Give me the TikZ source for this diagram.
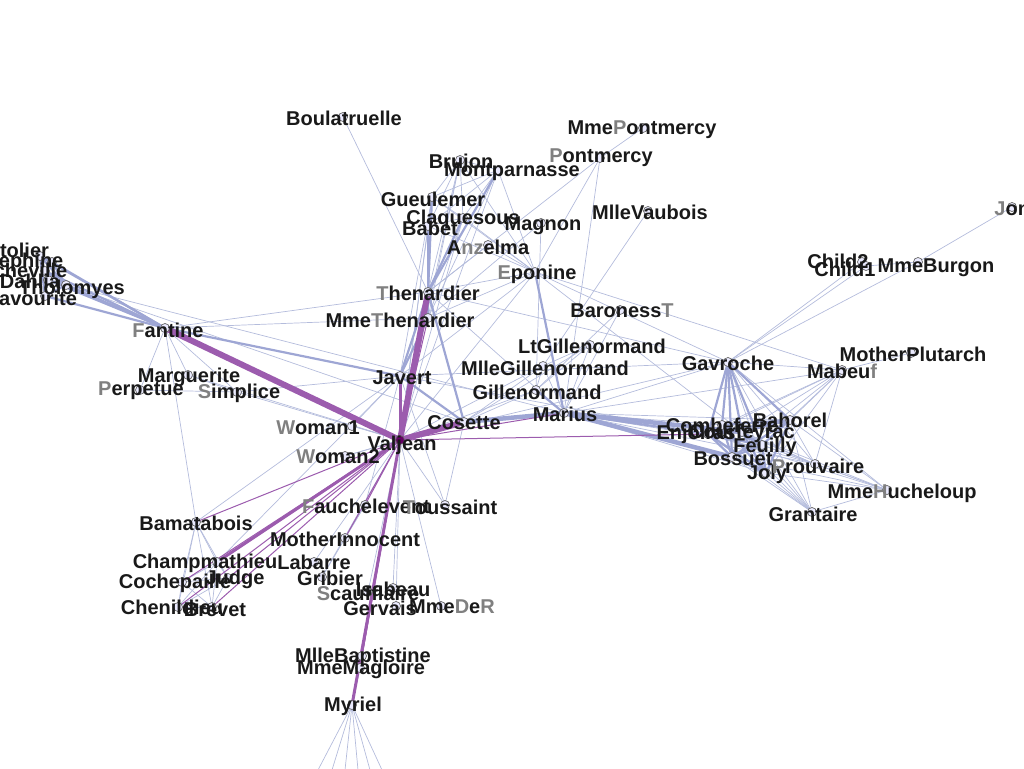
\documentclass[tikz,border=0pt]{standalone}
\usepackage{fontspec}
\setmainfont{Liberation Sans}
\definecolor{eA}{HTML}{B4BCDC}
\definecolor{eB}{HTML}{9EA6D4}
\definecolor{pA}{HTML}{9C5CAE}
\begin{document}
\begin{tikzpicture}[x=1pt,y=-1pt,
 pt/.style={circle,draw=black!60,fill=blue!8,inner sep=0pt,minimum size=9pt,line width=0.7pt},
 lab/.style={font=\fontsize{20}{20}\selectfont\bfseries,text=black!90,inner sep=0pt},
 e1/.style={draw=eA,line width=0.7pt},
 e2/.style={draw=eB,line width=2.2pt},
 e3/.style={draw=eB,line width=4.5pt},
 p1/.style={draw=pA,line width=1pt},
 p2/.style={draw=pA,line width=3pt},
 p3/.style={draw=pA,line width=6pt}]
\useasboundingbox (0,0) rectangle (1024,768);
\newcommand{\pn}[5]{\coordinate (#1) at (#2,#3);}
\pn{Boulatruelle}{343}{117}{}{}
\pn{MmePontmercy}{643}{128}{}{}
\pn{Pontmercy}{600}{158}{}{}
\pn{Brujon}{460}{160}{}{}
\pn{Montparnasse}{498}{170}{}{}
\pn{Gueulemer}{432}{197}{}{}
\pn{Claquesous}{463}{218}{}{}
\pn{Babet}{428}{226}{}{}
\pn{Magnon}{541}{223}{}{}
\pn{MlleVaubois}{648}{211}{}{}
\pn{Anzelma}{488}{245}{}{}
\pn{Eponine}{535}{272}{}{}
\pn{Jondrette}{1012}{207}{}{}
\pn{Child2}{862}{262}{}{}
\pn{Child1}{866}{266}{}{}
\pn{MmeBurgon}{918}{262}{}{}
\pn{Thenardier}{428}{292}{}{}
\pn{MmeThenardier}{428}{318}{}{}
\pn{BaronessT}{620}{310}{}{}
\pn{LtGillenormand}{590}{345}{}{}
\pn{MlleGillenormand}{543}{366}{}{}
\pn{Gillenormand}{536}{390}{}{}
\pn{Gavroche}{728}{362}{}{}
\pn{MotherPlutarch}{911}{353}{}{}
\pn{Mabeuf}{842}{370}{}{}
\pn{Javert}{400}{376}{}{}
\pn{Marius}{564}{413}{}{}
\pn{Cosette}{464}{422}{}{}
\pn{Valjean}{400}{440}{}{}
\pn{Woman1}{352}{426}{}{}
\pn{Woman2}{345}{456}{}{}
\pn{Fauchelevent}{365}{505}{}{}
\pn{Toussaint}{445}{505}{}{}
\pn{MotherInnocent}{345}{538}{}{}
\pn{Labarre}{314}{562}{}{}
\pn{Gribier}{322}{577}{}{}
\pn{Scaufflaire}{368}{592}{}{}
\pn{Isabeau}{393}{588}{}{}
\pn{Gervais}{396}{606}{}{}
\pn{MmeDeR}{441}{606}{}{}
\pn{Bahorel}{790}{420}{}{}
\pn{Combeferre}{722}{425}{}{}
\pn{Courfeyrac}{742}{432}{}{}
\pn{Enjolras}{708}{434}{}{}
\pn{Feuilly}{762}{445}{}{}
\pn{Bossuet}{732}{457}{}{}
\pn{Joly}{766}{473}{}{}
\pn{Prouvaire}{815}{464}{}{}
\pn{MmeHucheloup}{887}{490}{}{}
\pn{Grantaire}{812}{512}{}{}
\pn{Fantine}{165}{328}{}{}
\pn{Marguerite}{188}{375}{}{}
\pn{Perpetue}{140}{390}{}{}
\pn{Simplice}{237}{392}{}{}
\pn{Listolier}{40}{256}{}{}
\pn{Zephine}{52}{262}{}{}
\pn{Blacheville}{45}{271}{}{}
\pn{Dahlia}{48}{280}{}{}
\pn{Tholomyes}{66}{285}{}{}
\pn{Favourite}{45}{296}{}{}
\pn{Bamatabois}{196}{522}{}{}
\pn{Champmathieu}{217}{562}{}{}
\pn{Judge}{228}{578}{}{}
\pn{Cochepaille}{182}{582}{}{}
\pn{Chenildieu}{178}{607}{}{}
\pn{Brevet}{212}{607}{}{}
\pn{MlleBaptistine}{362}{656}{}{}
\pn{MmeMagloire}{360}{668}{}{}
\pn{Myriel}{352}{705}{}{}
\coordinate (o1) at (318,770); \coordinate (o2) at (332,770);\coordinate (o3) at (345,770);
\coordinate (o4) at (358,770);\coordinate (o5) at (370,770);\coordinate (o6) at (382,770);
% edges
\foreach \a/\b in {Myriel/o1,Myriel/o2,Myriel/o3,Myriel/o4,Myriel/o5,Myriel/o6,Myriel/MlleBaptistine,Myriel/MmeMagloire,MlleBaptistine/MmeMagloire,
 Valjean/Labarre,Valjean/Marguerite,Valjean/MmeDeR,Valjean/Isabeau,Valjean/Gervais,Valjean/Simplice,Valjean/Woman1,Valjean/Woman2,Valjean/Toussaint,Valjean/Scaufflaire,Valjean/Gribier,Valjean/Gillenormand,Valjean/MlleGillenormand,Valjean/Gavroche,Valjean/Babet,Valjean/Gueulemer,Valjean/Claquesous,Valjean/Montparnasse,Valjean/Brujon,Valjean/Eponine,
 Fantine/Marguerite,Fantine/Thenardier,Fantine/MmeThenardier,Fantine/Bamatabois,Fantine/Perpetue,Fantine/Simplice,Marguerite/Simplice,Perpetue/Simplice,
 Javert/Fauchelevent,Javert/Bamatabois,Javert/Champmathieu,Javert/Gavroche,Javert/Enjolras,Javert/Woman1,Javert/Simplice,Javert/Toussaint,Javert/Eponine,Javert/Gueulemer,
 Thenardier/Boulatruelle,Thenardier/Brujon,Thenardier/Eponine,Thenardier/Anzelma,Thenardier/Marius,Thenardier/Gavroche,Thenardier/Pontmercy,
 Eponine/Montparnasse,Eponine/Brujon,Eponine/Claquesous,Eponine/Babet,Eponine/Gueulemer,Eponine/MmeThenardier,Eponine/Anzelma,Eponine/Mabeuf,Eponine/Courfeyrac,Eponine/Gavroche,
 Marius/Pontmercy,Marius/LtGillenormand,Marius/MlleGillenormand,Marius/BaronessT,Marius/Mabeuf,Marius/Combeferre,Marius/Bahorel,Marius/Feuilly,Marius/Joly,Marius/Bossuet,Marius/Prouvaire,Marius/Gavroche,Marius/Tholomyes,Marius/Eponine,
 Gillenormand/MlleGillenormand,Gillenormand/Magnon,Gillenormand/Cosette,Gillenormand/LtGillenormand,Gillenormand/BaronessT,MlleGillenormand/MlleVaubois,MlleGillenormand/Cosette,MlleGillenormand/LtGillenormand,Cosette/LtGillenormand,
 Pontmercy/MmePontmercy,Pontmercy/Eponine,MmeThenardier/Magnon,MmeThenardier/Montparnasse,MmeThenardier/Brujon,MmeThenardier/Babet,MmeThenardier/Gueulemer,MmeThenardier/Claquesous,
 Brujon/Montparnasse,Brujon/Gueulemer,Brujon/Babet,Brujon/Claquesous,Montparnasse/Gueulemer,Montparnasse/Babet,Montparnasse/Claquesous,Gueulemer/Babet,Gueulemer/Claquesous,Babet/Claquesous,
 Gavroche/Child1,Gavroche/Child2,Gavroche/MmeBurgon,Gavroche/Mabeuf,Gavroche/Grantaire,Gavroche/MmeHucheloup,Gavroche/Prouvaire,Gavroche/Joly,Child1/Child2,MmeBurgon/Jondrette,Child1/MmeBurgon,MotherPlutarch/Mabeuf,
 Mabeuf/Enjolras,Mabeuf/Combeferre,Mabeuf/Courfeyrac,Mabeuf/Bahorel,Mabeuf/Feuilly,Mabeuf/Joly,Mabeuf/Bossuet,Mabeuf/Prouvaire,
 Enjolras/Prouvaire,Enjolras/Grantaire,Enjolras/MmeHucheloup,Combeferre/Prouvaire,Combeferre/Grantaire,Courfeyrac/Prouvaire,Courfeyrac/Grantaire,Courfeyrac/MmeHucheloup,Bahorel/Prouvaire,Bahorel/Grantaire,Bahorel/MmeHucheloup,Feuilly/Prouvaire,Feuilly/Grantaire,Feuilly/MmeHucheloup,Joly/Grantaire,Joly/MmeHucheloup,Bossuet/Grantaire,Bossuet/MmeHucheloup,Grantaire/MmeHucheloup,Prouvaire/MmeHucheloup,
 Fauchelevent/MotherInnocent,Fauchelevent/Gribier,Cosette/Woman2,Cosette/Toussaint,Cosette/Tholomyes,
 Bamatabois/Champmathieu,Bamatabois/Judge,Bamatabois/Cochepaille,Bamatabois/Chenildieu,Bamatabois/Brevet,Champmathieu/Judge,Champmathieu/Cochepaille,Champmathieu/Chenildieu,Champmathieu/Brevet,Judge/Cochepaille,Judge/Chenildieu,Judge/Brevet,Cochepaille/Chenildieu,Cochepaille/Brevet,Chenildieu/Brevet}
 \draw[e1] (\a) -- (\b);
\foreach \a/\b in {Fantine/Javert,Javert/Thenardier,Javert/MmeThenardier,Javert/Cosette,Fantine/Tholomyes,Fantine/Listolier,Fantine/Zephine,Fantine/Blacheville,Fantine/Dahlia,Fantine/Favourite,
 Thenardier/Babet,Thenardier/Gueulemer,Thenardier/Claquesous,Thenardier/Montparnasse,Thenardier/MmeThenardier,Thenardier/Cosette,Eponine/Marius,Marius/Gillenormand,Marius/Enjolras,
 Gavroche/Enjolras,Gavroche/Combeferre,Gavroche/Courfeyrac,Gavroche/Bahorel,Gavroche/Feuilly,Gavroche/Bossuet,
 Enjolras/Combeferre,Enjolras/Courfeyrac,Enjolras/Bahorel,Enjolras/Feuilly,Enjolras/Joly,Enjolras/Bossuet,Combeferre/Courfeyrac,Combeferre/Bahorel,Combeferre/Feuilly,Combeferre/Joly,Combeferre/Bossuet,Courfeyrac/Bahorel,Courfeyrac/Feuilly,Courfeyrac/Joly,Courfeyrac/Bossuet,Bahorel/Feuilly,Bahorel/Joly,Bahorel/Bossuet,Feuilly/Joly,Feuilly/Bossuet,Joly/Bossuet,
 Listolier/Zephine,Listolier/Blacheville,Listolier/Dahlia,Listolier/Favourite,Listolier/Tholomyes,Zephine/Tholomyes,Dahlia/Tholomyes,Favourite/Tholomyes,Blacheville/Tholomyes}
 \draw[e2] (\a) -- (\b);
\foreach \a/\b in {Marius/Cosette,Marius/Courfeyrac,Marius/Bossuet}
 \draw[e3] (\a) -- (\b);
\foreach \a/\b in {Valjean/MlleBaptistine,Valjean/MmeMagloire,Valjean/MmeThenardier,Valjean/Fauchelevent,Valjean/Bamatabois,Valjean/Judge,Valjean/Brevet,Valjean/Chenildieu,Valjean/Cochepaille,Valjean/Enjolras,Valjean/MotherInnocent,Valjean/Marius}
 \draw[p1] (\a) -- (\b);
\foreach \a/\b in {Valjean/Myriel,Valjean/Champmathieu,Valjean/Javert}
 \draw[p2] (\a) -- (\b);
\foreach \a/\b in {Valjean/Fantine,Valjean/Thenardier,Valjean/Cosette}
 \draw[p3] (\a) -- (\b);
% points
\foreach \n in {Boulatruelle,MmePontmercy,Pontmercy,Brujon,Montparnasse,Gueulemer,Claquesous,Babet,Magnon,MlleVaubois,Anzelma,Eponine,Jondrette,Child2,Child1,MmeBurgon,Thenardier,MmeThenardier,BaronessT,LtGillenormand,MlleGillenormand,Gillenormand,Gavroche,MotherPlutarch,Mabeuf,Javert,Marius,Cosette,Woman1,Woman2,Fauchelevent,Toussaint,MotherInnocent,Labarre,Gribier,Scaufflaire,Isabeau,Gervais,MmeDeR,Bahorel,Combeferre,Courfeyrac,Enjolras,Feuilly,Bossuet,Joly,Prouvaire,MmeHucheloup,Grantaire,Fantine,Marguerite,Perpetue,Simplice,Listolier,Zephine,Blacheville,Dahlia,Tholomyes,Favourite,Bamatabois,Champmathieu,Judge,Cochepaille,Chenildieu,Brevet,MlleBaptistine,MmeMagloire,Myriel}
 \node[pt] (p\n) at (\n) {};
\node[pt,fill=violet!80!black] (pValjean) at (Valjean) {};
% labels
\newcommand{\g}[1]{\textcolor{gray}{#1}}
\foreach \n/\x/\y/\t in {Boulatruelle/344/118/Boulatruelle,MmePontmercy/642/130/Mme\g{P}ontmercy,Pontmercy/601/158/\g{P}ontmercy,Brujon/461/163/Brujon,Montparnasse/512/172/Montparnasse,Gueulemer/433/199/Gueulemer,Claquesous/463/219/Claquesous,Babet/430/228/Babet,Magnon/543/226/Magnon,MlleVaubois/650/212/MlleVaubois,Anzelma/488/247/A\g{nz}elma,Eponine/537/274/\g{E}ponine,Jondrette/1040/208/\g{J}ondrette,Child2/838/261/Child2,Child1/845/269/Child1,MmeBurgon/936/268/MmeBurgon,Thenardier/428/293/\g{T}henardier,MmeThenardier/400/320/Mme\g{T}henardier,BaronessT/622/311/Baroness\g{T},LtGillenormand/592/346/LtGillenormand,MlleGillenormand/545/368/MlleGillenormand,Gillenormand/537/392/Gillenormand,Gavroche/728/363/Gavroche,MotherPlutarch/913/354/MotherPlutarch,Mabeuf/842/371/Mabeu\g{f},Javert/402/378/Javert,Marius/565/414/Marius,Cosette/464/423/Cosette,Valjean/402/445/Valjean,Woman1/318/428/\g{W}oman1,Woman2/338/457/\g{W}oman2,Fauchelevent/366/506/\g{F}auchelevent,Toussaint/450/507/\g{T}oussaint,MotherInnocent/345/539/MotherInnocent,Labarre/314/562/Labarre,Gribier/330/578/Gribier,Scaufflaire/368/593/\g{S}caufflaire,Isabeau/393/589/Isabeau,Gervais/380/608/Gervais,MmeDeR/452/607/Mme\g{D}e\g{R},Bahorel/790/420/Bahorel,Combeferre/722/425/Combeferre,Courfeyrac/742/433/Courfeyrac,Enjolras/696/434/Enjolras,Feuilly/765/447/Feuilly,Bossuet/733/459/Bossuet,Joly/767/474/Joly,Prouvaire/818/466/\g{P}rouvaire,MmeHucheloup/902/493/Mme\g{H}ucheloup,Grantaire/813/514/Grantaire,Fantine/168/330/\g{F}antine,Marguerite/189/377/Marguerite,Perpetue/141/391/\g{P}erpetue,Simplice/239/393/\g{S}implice,Listolier/10/250/Listolier,Zephine/25/262/Zephine,Blacheville/15/270/Blacheville,Dahlia/30/281/Dahlia,Tholomyes/72/289/Tholomyes,Favourite/32/298/Favourite,Bamatabois/196/523/Bamatabois,Champmathieu/205/563/Champmathieu,Judge/235/579/Judge,Cochepaille/175/583/Cochepaille,Chenildieu/172/607/Chenildieu,Brevet/215/610/Brevet,MlleBaptistine/363/657/MlleBaptistine,MmeMagloire/361/669/MmeMagloire,Myriel/353/706/Myriel}
 \node[lab] (l\n) at (\x,\y) {\t};
\end{tikzpicture}
\end{document}
